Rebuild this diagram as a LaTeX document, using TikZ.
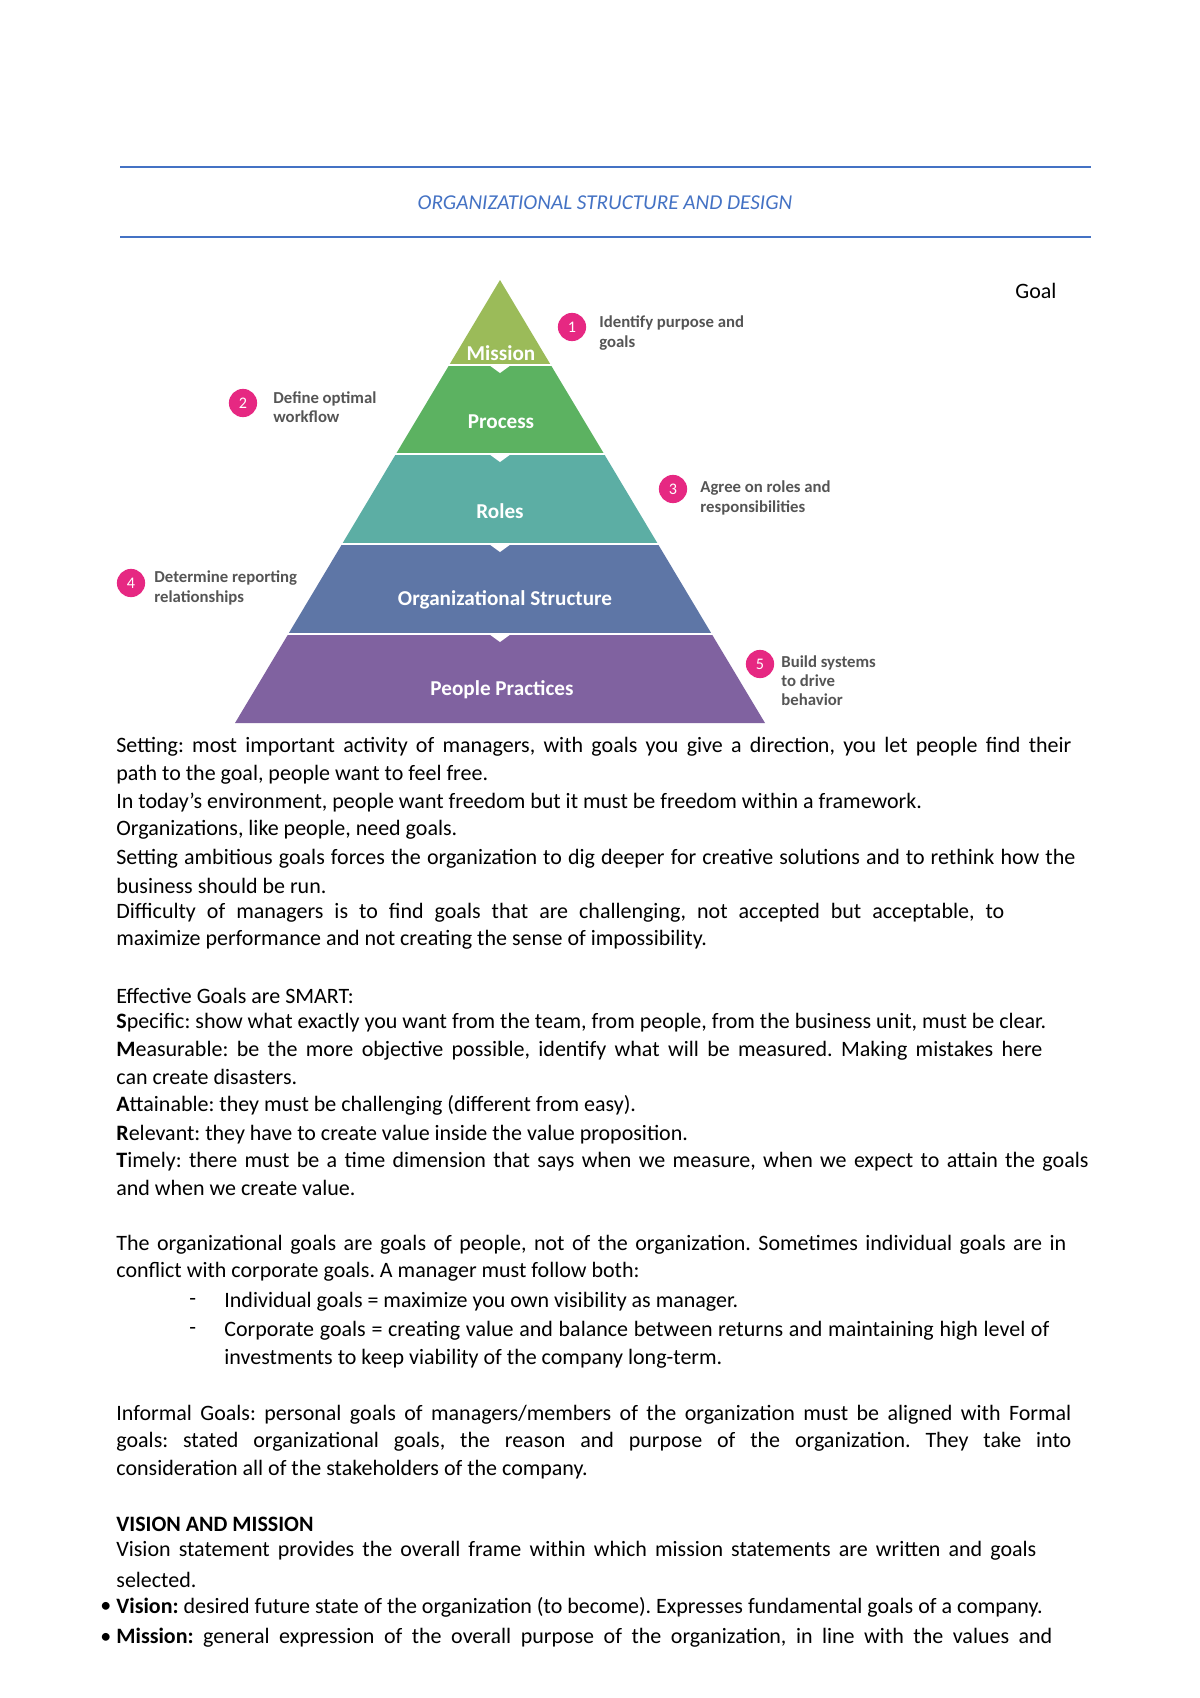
\documentclass[tikz,border=0pt]{standalone}
\usepackage{fontspec}
\setmainfont{Carlito}
\frenchspacing
\definecolor{hdr}{RGB}{68,114,196}
\definecolor{cM}{RGB}{155,187,89}
\definecolor{cP}{RGB}{92,178,97}
\definecolor{cR}{RGB}{92,174,164}
\definecolor{cO}{RGB}{94,118,166}
\definecolor{cPP}{RGB}{128,98,160}
\definecolor{mag}{RGB}{230,40,130}
\definecolor{lab}{RGB}{85,85,85}
\tikzset{
 ln/.style={anchor=west,inner sep=0pt,font=\fontsize{10.9}{13}\selectfont},
 band/.style={text=white,font=\bfseries\fontsize{10.5}{12}\selectfont},
 num/.style={circle,fill=mag,text=white,minimum size=14pt,inner sep=0pt,font=\fontsize{8}{9}\selectfont},
 lbl/.style={anchor=west,inner sep=0pt,text=lab,align=left,font=\bfseries\fontsize{8.3}{9.5}\selectfont},
}
\newcommand{\jl}[2]{\makebox[#1\dimexpr 0.4958pt\relax][s]{#2}}
\begin{document}
\begin{tikzpicture}[x=0.4958pt,y=-0.4958pt]
\useasboundingbox (0,0) rectangle (1200,1698);
\fill[white] (0,0) rectangle (1200,1698);
% header
\draw[hdr,line width=1.2pt] (120,167) -- (1091,167);
\draw[hdr,line width=0.6pt] (120,237) -- (1091,237);
\node[inner sep=0pt,text=hdr,font=\itshape\fontsize{10.5}{12}\selectfont] (title) at (605,203) {ORGANIZATIONAL STRUCTURE AND DESIGN};
\node[ln] (goal) at (1015,291) {Goal};
% pyramid
\fill[cM] (500,280) -- (550.8,365) -- (449.2,365) -- cycle;
\fill[cP] (449.2,365) -- (550.8,365) -- (604.1,454) -- (395.9,454) -- cycle;
\fill[cR] (395.9,454) -- (604.1,454) -- (657.9,544) -- (342.1,544) -- cycle;
\fill[cO] (342.1,544) -- (657.9,544) -- (711.7,634) -- (288.3,634) -- cycle;
\fill[cPP] (288.3,634) -- (711.7,634) -- (765,723) -- (235,723) -- cycle;
\foreach \y/\h in {365/50.8,454/104.1,544/157.9,634/211.7}{
 \draw[white,line width=1.3pt] (500-\h-3,\y) -- (500+\h+3,\y);
 \fill[white] (489,\y) -- (511,\y) -- (500,\y+8) -- cycle;
}
\node[band] (mission) at (501,353) {Mission};
\node[band] (process) at (501,422) {Process};
\node[band] (roles) at (500,511) {Roles};
\node[band] (org) at (505,600) {Organizational Structure};
\node[band] (people) at (502,690) {People Practices};
\node[num] (n1) at (572,327) {1};
\node[num] (n2) at (243,403) {2};
\node[num] (n3) at (673,489) {3};
\node[num] (n4) at (131,583) {4};
\node[num] (n5) at (760,664) {5};
\node[lbl] (t1) at (599,333) {Identify purpose and\\goals};
\node[lbl] (t2) at (273,407) {Define optimal\\workflow};
\node[lbl] (t3) at (700,498) {Agree on roles and\\responsibilities};
\node[lbl] (t4) at (154,588) {Determine reporting\\relationships};
\node[lbl] (t5) at (781,681) {Build systems\\to drive\\behavior};
% body text
\node[ln] (l1) at (116,747) {\jl{955}{Setting: most important activity of managers, with goals you give a direction, you let people find their}};
\node[ln] (l2) at (116,775) {path to the goal, people want to feel free.};
\node[ln] (l3) at (116,803) {In today’s environment, people want freedom but it must be freedom within a framework.};
\node[ln] (l4) at (116,830) {Organizations, like people, need goals.};
\node[ln] (l5) at (116,859) {\jl{959}{Setting ambitious goals forces the organization to dig deeper for creative solutions and to rethink how the}};
\node[ln] (l6) at (116,886) {business should be run.};
\node[ln] (l7) at (116,913) {\jl{888}{Difficulty of managers is to find goals that are challenging, not accepted but acceptable, to}};
\node[ln] (l8) at (116,940) {maximize performance and not creating the sense of impossibility.};
\node[ln] (l9) at (116,996) {Effective Goals are SMART:};
\node[ln] (l10) at (116,1023) {\textbf{S}pecific: show what exactly you want from the team, from people, from the business unit, must be clear.};
\node[ln] (l11) at (116,1051) {\jl{926}{\textbf{M}easurable: be the more objective possible, identify what will be measured. Making mistakes here}};
\node[ln] (l12) at (116,1077) {can create disasters.};
\node[ln] (l13) at (116,1105) {\textbf{A}ttainable: they must be challenging (different from easy).};
\node[ln] (l14) at (116,1135) {\textbf{R}elevant: they have to create value inside the value proposition.};
\node[ln] (l15) at (116,1162) {\jl{972}{\textbf{T}imely: there must be a time dimension that says when we measure, when we expect to attain the goals}};
\node[ln] (l16) at (116,1188) {and when we create value.};
\node[ln] (l17) at (116,1245) {\jl{950}{The organizational goals are goals of people, not of the organization. Sometimes individual goals are in}};
\node[ln] (l18) at (116,1272) {conflict with corporate goals. A manager must follow both:};
\node[ln] (d1) at (189,1302) {-};
\node[ln] (l19) at (224,1302) {Individual goals = maximize you own visibility as manager.};
\node[ln] (d2) at (189,1331) {-};
\node[ln] (l20) at (224,1331) {\jl{825}{Corporate goals = creating value and balance between returns and maintaining high level of}};
\node[ln] (l21) at (224,1359) {investments to keep viability of the company long-term.};
\node[ln] (l22) at (116,1415) {\jl{955}{Informal Goals: personal goals of managers/members of the organization must be aligned with Formal}};
\node[ln] (l23) at (116,1442) {\jl{955}{goals: stated organizational goals, the reason and purpose of the organization. They take into}};
\node[ln] (l24) at (116,1470) {consideration all of the stakeholders of the company.};
\node[ln] (l25) at (116,1524) {\textbf{VISION AND MISSION}};
\node[ln] (l26) at (116,1551) {\jl{920}{Vision statement provides the overall frame within which mission statements are written and goals}};
\node[ln] (l27) at (116,1580) {selected.};
\node[ln] (b1) at (100,1607) {•};
\node[ln] (l28) at (116,1607) {\textbf{Vision:} desired future state of the organization (to become). Expresses fundamental goals of a company.};
\node[ln] (b2) at (100,1638) {•};
\node[ln] (l29) at (116,1638) {\jl{936}{\textbf{Mission:} general expression of the overall purpose of the organization, in line with the values and}};
\end{tikzpicture}
\end{document}
